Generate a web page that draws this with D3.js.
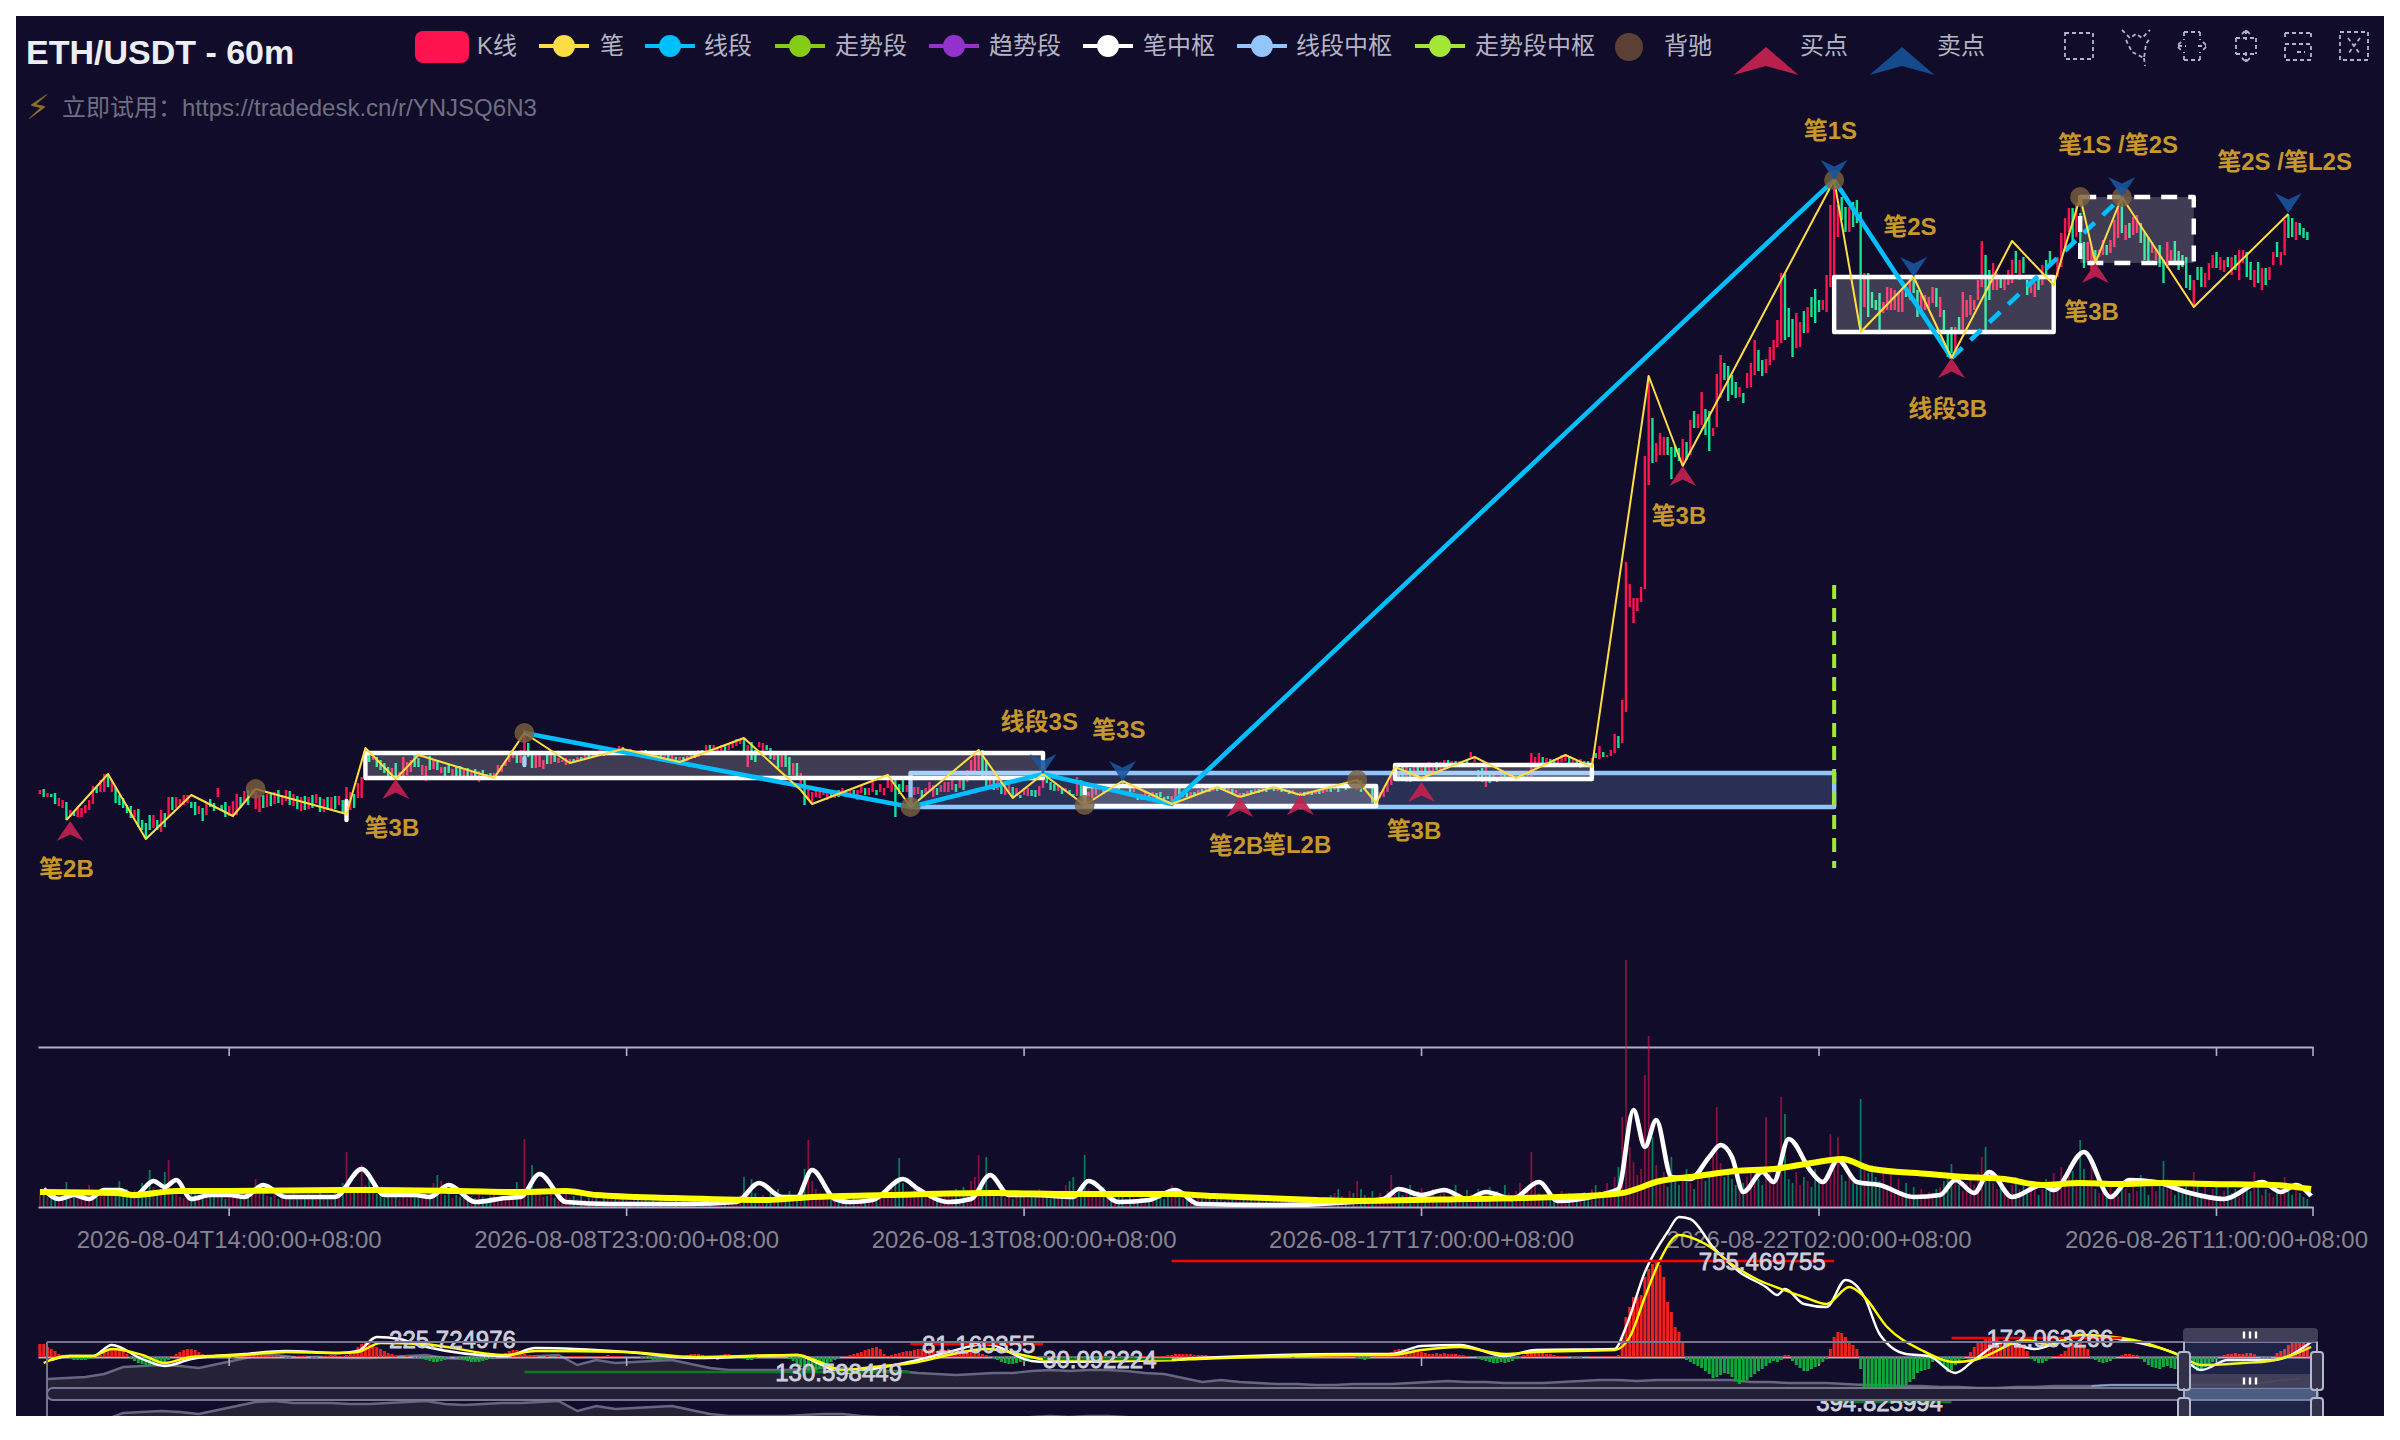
<!DOCTYPE html>
<html>
<head>
  <meta charset="utf-8">
  <title>ETH/USDT - 60m</title>
  <script src="https://d3js.org/d3.v7.min.js"></script>
  <style>
    body { margin: 0; background: #fff; }
    text { font-family: "Liberation Sans", "Noto Sans CJK SC", "DejaVu Sans", sans-serif; }
  </style>
</head>
<body>
  <svg id="chart" width="2400" height="1440"></svg>

  <script>
    // categories and tick labels
    const barCount = 601;
    const tickBars = [50, 155, 260, 365, 470, 575];
    const tickLabels = ["2026-08-04T14:00:00+08:00", "2026-08-08T23:00:00+08:00", "2026-08-13T08:00:00+08:00",
      "2026-08-17T17:00:00+08:00", "2026-08-22T02:00:00+08:00", "2026-08-26T11:00:00+08:00"];

    // candles, 20 bars per row
    const candleOpen = [
      106,111,103,106,107,94,92,98,83,88,83,83,87,90,96,113,108,108,125,108,
      113,105,102,95,94,83,91,80,77,85,72,80,68,87,83,103,92,93,95,97,
      98,98,86,92,85,101,97,103,95,98,84,85,85,103,97,110,105,91,88,105,
      93,106,96,110,95,99,109,94,104,89,104,91,105,97,103,88,103,91,104,95,
      100,88,90,106,102,102,120,148,140,143,140,137,133,125,137,122,122,125,128,145,
      142,125,119,144,131,140,127,133,135,123,133,134,120,132,120,131,118,130,126,127,
      122,127,128,134,138,142,145,137,137,157,148,132,133,131,145,136,146,137,138,135,
      137,141,139,143,141,145,143,147,145,147,148,146,150,150,153,146,151,146,149,147,
      150,146,147,143,146,141,145,140,143,140,143,139,142,146,143,150,147,155,150,148,
      148,155,150,152,154,156,162,133,158,150,153,147,155,152,140,147,133,147,143,125,
      137,115,120,100,98,103,102,105,100,108,102,110,105,108,103,110,100,107,112,105,
      108,110,108,105,112,108,122,116,120,108,97,105,106,110,107,110,103,112,108,108,
      108,110,116,112,120,118,125,127,130,150,140,115,122,110,118,105,106,113,104,105,
      105,104,110,110,104,112,124,118,116,109,112,108,110,106,104,120,115,95,102,105,
      110,112,108,114,110,113,119,112,114,108,105,100,102,105,103,107,108,103,104,96,
      96,112,103,107,104,108,106,111,108,112,109,113,110,113,109,111,107,103,107,104,
      110,107,111,108,112,110,113,109,112,108,110,107,105,104,108,105,109,106,110,107,
      108,113,110,113,112,115,113,117,110,120,114,112,115,97,102,103,108,115,122,128,
      133,118,132,119,133,125,135,127,129,138,127,130,140,135,139,135,137,140,143,138,
      130,132,113,125,120,123,120,125,121,125,124,120,124,122,123,130,135,143,135,141,
      141,137,138,139,143,137,139,132,139,139,132,147,141,148,143,144,147,164,157,188,
      293,277,289,298,311,415,482,438,445,445,463,453,454,452,434,458,445,489,472,475,
      491,489,464,473,502,537,534,525,518,503,507,512,513,525,550,540,527,535,540,553,
      557,626,592,581,552,553,589,567,603,611,600,590,588,613,623,663,703,693,668,698,
      700,688,593,627,608,600,607,587,590,590,590,588,588,613,600,620,610,590,590,592,
      597,612,583,590,570,573,550,583,570,583,585,590,600,613,645,630,610,610,625,610,
      615,617,649,620,643,620,607,603,625,615,640,649,613,623,633,652,668,692,663,687,
      658,640,630,650,643,645,655,647,653,662,700,660,677,665,667,677,668,663,647,640,
      655,640,632,635,659,649,645,643,625,593,633,633,613,620,632,648,630,628,643,625,
      645,620,637,648,638,613,638,610,632,620,635,658,635,645,685,682,660,677,672,668
    ];
    const candleClose = [
      110,103,107,103,96,102,100,80,90,84,92,92,95,100,114,107,120,126,113,120,
      97,95,92,87,82,90,73,70,61,70,85,70,90,73,103,90,103,101,105,105,
      92,85,94,79,98,93,89,112,90,83,94,99,106,92,109,95,111,108,105,92,
      106,94,108,97,105,110,95,106,91,103,90,103,92,106,88,101,90,103,91,104,
      88,113,108,92,117,123,152,138,148,133,130,127,122,132,121,128,143,138,140,133,
      133,135,134,130,140,130,133,124,127,131,124,124,130,122,129,121,129,120,120,120,
      127,135,135,140,145,149,137,150,170,143,132,146,145,140,136,146,138,142,140,142,
      141,138,143,140,146,142,147,144,150,144,150,151,146,154,147,151,146,150,146,150,
      146,149,143,147,141,146,140,145,138,143,138,144,147,142,150,147,155,148,155,153,
      155,148,156,158,161,160,146,155,140,138,158,157,150,141,148,132,148,133,125,137,
      120,127,95,110,108,110,108,110,107,103,108,103,112,103,110,103,110,115,105,112,
      118,105,116,112,126,124,83,106,108,115,115,113,113,103,112,118,115,105,115,118,
      118,120,108,122,110,130,140,147,148,120,112,125,110,120,106,118,118,104,112,102,
      112,112,104,103,114,125,117,110,109,114,106,112,106,103,123,95,106,108,112,115,
      115,106,115,108,116,108,113,116,108,112,100,106,108,100,108,100,103,98,101,104,
      116,104,108,103,108,105,110,107,112,108,113,109,114,109,112,106,110,107,104,109,
      106,111,107,112,108,113,109,112,108,111,106,110,107,108,104,109,105,110,106,111,
      113,108,113,108,116,110,117,112,120,108,110,115,97,104,108,110,118,127,133,120,
      123,137,118,135,124,135,126,138,135,130,138,140,132,139,134,139,134,136,148,143,
      122,118,133,117,125,118,125,119,126,120,128,126,122,128,147,143,147,136,142,137,
      137,142,145,145,137,142,133,141,135,135,142,142,154,143,145,150,166,152,200,338,
      316,302,302,313,444,524,437,457,467,463,445,421,443,439,461,440,480,472,486,508,
      465,449,472,526,545,520,499,505,502,513,497,527,537,560,529,524,541,553,560,580,
      627,560,563,543,587,578,567,593,583,577,588,600,625,695,717,695,680,668,693,673,
      677,568,627,583,592,590,570,598,613,612,610,607,612,603,623,607,583,607,605,603,
      613,593,603,568,543,547,573,570,608,600,605,600,620,659,570,600,637,627,612,625,
      630,640,627,640,627,605,620,617,610,635,625,633,625,643,667,682,692,657,697,653,
      632,658,653,640,650,660,645,660,680,697,667,675,662,683,685,657,640,638,658,650,
      633,617,658,650,637,630,633,612,610,620,620,613,627,637,645,632,643,640,633,643,
      630,650,650,623,620,630,617,632,615,633,648,643,648,680,662,663,678,665,662,660
    ];

    // volume and its two averages (bar index / value)
    const volume = [
      12,18,10,14,17,16,10,25,12,9,14,11,10,22,14,10,16,12,15,13,
      11,26,14,18,15,17,13,24,15,37,20,16,18,35,47,13,16,10,9,15,
      18,14,10,12,9,14,16,13,12,8,11,14,10,9,13,10,12,28,17,14,
      11,10,16,8,13,9,12,14,8,11,10,13,9,12,16,10,11,9,14,12,
      24,55,18,20,16,42,22,34,17,13,12,9,10,14,11,8,12,9,13,10,
      14,11,13,19,24,32,26,12,16,9,12,10,14,8,11,9,13,10,8,11,
      13,9,18,11,14,10,25,16,68,20,42,18,14,10,11,24,9,12,8,14,
      9,11,8,13,7,10,9,12,6,10,8,13,9,7,11,8,6,10,7,9,
      8,6,9,5,7,8,5,7,6,4,8,5,6,7,4,6,5,7,4,5,
      6,4,8,5,7,12,30,16,28,14,10,12,8,14,9,18,13,10,16,12,
      11,20,38,67,26,18,14,12,10,9,11,8,10,13,7,9,6,10,8,9,
      10,14,12,16,18,22,28,49,24,16,12,18,10,14,11,9,13,8,11,10,
      12,10,18,14,20,16,26,30,52,22,50,14,12,10,13,9,11,8,10,12,
      14,9,11,16,18,12,10,8,11,13,14,22,26,30,16,20,52,18,14,12,
      16,20,11,9,12,10,14,8,11,9,7,10,9,8,11,7,9,8,10,22,
      12,9,8,11,10,7,9,8,12,9,7,11,8,6,10,8,9,7,10,8,
      9,7,8,10,6,9,8,7,11,6,8,5,9,7,6,8,5,7,9,10,
      8,12,14,18,11,9,16,14,26,18,12,10,16,9,14,10,16,32,20,15,
      12,18,22,14,16,19,11,14,18,10,13,16,9,12,22,14,11,17,13,10,
      18,12,14,20,10,16,12,22,14,11,16,24,18,20,55,26,14,12,9,11,
      10,13,16,11,14,9,12,10,15,13,18,22,16,12,24,18,30,40,90,247,
      60,45,32,38,132,171,70,42,28,35,20,50,26,22,30,38,24,18,32,28,
      26,34,58,100,44,30,36,28,22,18,24,30,35,40,28,22,90,34,26,42,
      110,93,28,24,35,22,30,26,20,38,24,28,30,73,46,70,32,26,38,24,
      22,108,40,34,42,30,26,36,22,32,18,28,16,24,14,20,12,18,10,15,
      14,18,20,26,34,43,28,22,16,24,30,22,35,50,60,30,24,18,26,20,
      16,22,30,18,26,14,20,24,12,18,28,22,34,26,40,30,42,36,28,67,
      38,24,43,18,14,22,12,20,16,10,26,18,14,28,16,32,20,12,24,16,
      22,46,28,18,12,26,16,20,14,35,22,14,24,10,18,20,12,16,22,14,
      18,10,14,22,16,35,20,12,18,14,10,16,24,30,18,12,22,14,10,8
    ];
    const volFastBar = [1,5,9,13,17,21,25,30,33,36,40,45,50,54,59,65,70,78,85,91,99,103,108,115,123,127,132,139,151,171,184,190,196,200,204,210,214,220,228,232,240,246,251,256,262,273,277,285,293,300,306,327,347,355,359,365,371,377,382,389,396,401,412,417,421,424,427,431,436,441,444,447,450,455,458,462,468,471,475,480,486,495,502,506,511,515,521,529,532,540,547,552,559,567,577,587,592,596,600];
    const volFast = [18,8,12,8,17,17,11,26,20,27,8,12,12,10,22,10,10,10,38,12,12,10,22,5,9,10,33,5,3,3,5,24,10,10,37,8,5,7,28,18,5,8,32,12,12,10,26,5,7,17,3,2,5,8,18,12,17,8,15,8,25,6,12,18,97,60,87,30,28,50,62,50,15,35,25,68,35,25,47,25,22,10,12,27,14,35,10,22,17,55,10,27,25,15,8,25,15,22,11];
    const volSlowBar = [0,20,25,36,50,80,87,111,127,139,147,167,192,204,224,252,273,299,310,337,347,377,408,418,428,438,448,458,468,476,484,499,509,519,529,539,549,561,573,590,600];
    const volSlow = [15,14,12,16,16,17,17,16,15,16,12,9,7,10,12,14,13,13,11,7,6,8,11,14,26,31,36,38,44,48,38,33,30,28,22,24,23,24,23,22,18];

    // MACD
    const macdHist = [
      13,13,10,8,6,3,1,0,-1,-3,-3,-3,-3,-2,-1,0,2,4,6,8,
      9,8,6,3,-2,-4,-6,-7,-8,-8,-9,-8,-7,-6,-3,1,3,5,7,8,
      8,7,5,3,2,2,2,2,1,0,0,-1,0,1,2,3,3,3,2,2,
      1,1,2,1,0,-1,-1,0,1,1,1,0,-1,-1,0,1,1,2,2,1,
      1,2,3,6,10,13,15,14,12,10,8,6,4,3,1,0,0,1,0,-1,
      -1,-2,-3,-4,-5,-5,-4,-3,-1,0,-1,-2,-3,-4,-5,-5,-5,-4,-3,-2,
      -1,1,2,4,6,7,7,5,3,2,1,1,0,0,1,0,0,1,0,0,
      1,1,1,1,1,0,0,1,1,1,2,1,1,1,1,0,0,0,0,-1,
      -1,-2,-3,-3,-3,-2,-1,0,0,1,1,2,3,3,3,2,1,0,-1,-3,
      2,3,3,2,1,0,-2,-3,-3,-1,0,1,1,0,1,1,0,0,-2,-4,
      -7,-10,-13,-15,-15,-14,-12,-10,-8,-5,-3,-1,0,1,2,3,4,5,7,8,
      9,10,8,3,1,2,3,4,5,6,6,7,8,8,7,8,7,6,8,7,
      8,6,8,5,7,6,5,6,4,3,2,0,-1,-3,-5,-6,-7,-7,-6,-5,
      -5,-4,-2,0,-1,-2,-2,-2,-1,-1,-2,-2,-1,-1,-2,-1,-1,-2,-2,-2,
      -1,-1,-2,-1,0,-1,-1,0,-1,-1,0,1,1,-1,-1,1,1,1,2,2,
      3,3,3,3,3,2,2,2,2,1,1,1,1,1,1,0,1,1,1,0,
      0,0,1,0,1,1,0,0,1,0,0,-1,0,0,0,0,0,1,1,1,
      1,1,2,1,1,2,2,1,-1,-2,-3,-2,0,1,2,1,3,5,7,8,
      8,7,6,8,7,5,4,3,3,4,3,4,3,3,3,2,2,1,0,0,
      -2,-3,-4,-5,-6,-6,-5,-6,-5,-4,-2,-1,2,4,5,5,5,4,3,3,
      2,1,1,1,0,-1,-1,-1,0,0,1,1,0,1,1,1,1,2,20,40,
      50,60,60,62,80,88,93,96,92,80,55,45,30,25,15,-3,-5,-7,-9,-11,
      -14,-17,-21,-20,-18,-16,-17,-20,-24,-27,-25,-23,-20,-17,-14,-12,-9,-6,-4,-5,
      -3,2,2,-4,-8,-11,-14,-14,-12,-10,-7,-5,-2,8,20,25,24,20,16,12,
      8,-12,-30,-37,-42,-45,-45,-45,-43,-43,-38,-33,-30,-28,-25,-22,-16,-14,-13,-12,
      -5,-4,-6,-10,-15,-13,-8,-4,-2,1,5,10,14,16,18,18,17,18,16,17,
      17,16,15,14,12,6,-2,-4,-6,-6,-4,-2,1,1,3,6,10,13,15,14,
      12,8,-1,-3,-5,-6,-5,-4,-2,0,2,3,3,2,2,-2,-5,-8,-10,-11,
      -12,-10,-9,-11,-12,-13,-10,-7,-5,-9,-14,-12,-10,-7,-5,-2,0,2,3,3,
      4,3,3,4,4,3,0,-1,-1,-1,0,4,6,8,12,18,17,16,15,12
    ];
    const difBar = [3,8,14,19,27,33,40,54,65,79,84,89,95,101,123,131,155,173,200,206,212,220,232,240,250,262,266,299,306,347,357,365,375,387,395,416,419,424,430,433,436,442,449,456,459,461,466,472,477,482,486,493,499,506,511,519,527,539,549,557,565,571,578,590,600];
    const dif = [-3,1,1,12,-2,-9,-2,3,6,4,6,20,18,11,1,9,5,-1,2,-7,-16,-12,-3,5,13,-4,-5,-3,-1,3,3,11,12,1,7,8,30,85,125,140,138,110,85,70,62,68,53,50,77,60,23,3,1,-16,-3,15,8,22,18,12,2,-13,-3,-3,15];
    const deaBar = [1,7,14,19,27,33,40,54,65,79,84,90,101,123,131,155,173,200,206,212,220,232,240,250,262,266,299,306,347,357,365,375,387,395,416,420,424,428,433,440,448,454,460,466,472,478,482,488,497,506,511,525,531,539,553,565,571,582,589,595,600];
    const dea = [-6,1,1,8,2,-6,0,2,5,4,5,14,13,2,6,5,0,2,-5,-13,-10,-5,2,8,0,-3,-3,-2,2,2,7,10,3,5,7,20,60,97,122,113,90,77,68,60,53,70,60,30,7,-5,-3,17,12,22,17,2,-8,-6,-4,2,10];

    // labelled extremes of the MACD histogram
    const markText = ["225.724976", "130.598449", "81.160355", "30.092224", "755.469755", "394.825994", "172.063266"];
    const markLevel = [18, -15, 13, -2, 96, -45, 19];
    const markFrom = [88, 128, 230, 265, 299, 474, 505];
    const markTo = [88, 230, 265, 299, 474, 505, 550];
    const markLabelBar = [109, 211, 248, 280, 455, 486, 531];
    const markColor = ["#ff0000", "#0c7a1e", "#ff0000", "#0c7a1e", "#ff0000", "#0c7a1e", "#ff0000"];

    // slider preview line, one value every 5 bars
    const sliderLine = [9,10,11,14,21,22,23,22,20,24,28,32,33,31,31,31,30,30,31,32,33,30,29,30,31,31,32,33,23,28,25,26,27,28,24,20,18,18,18,18,19,20,20,18,17,17,15,14,13,14,15,15,17,18,17,18,18,17,15,14,10,6,8,6,5,4,4,3,3,4,4,4,5,6,7,6,6,5,5,5,6,7,8,8,7,8,8,8,8,8,6,6,5,5,5,4,3,3,2,2,1,1,0,0,1,1,2,2,2,3,3,3,3,3,3,3,3,5,8,9];

    // chan structures, all from bar index / price
    const penBar = [7,18,28,40,51,57,81,86,94,100,120,128,140,154,169,186,201,204,224,230,248,257,265,276,286,299,311,317,326,333,348,353,358,365,379,390,403,410,425,434,474,481,495,505,521,532,539,543,550,569,594];
    const penPrice = [80,126,61,105,84,111,86,152,121,145,122,167,137,151,138,162,110,96,125,93,150,102,126,95,119,96,113,103,113,105,120,97,133,122,143,122,145,133,524,434,720,568,623,542,659,615,703,637,703,593,686];
    const segmentBar = [128,230,265,299,474,505];
    const segmentPrice = [167,93,126,96,720,542];
    const segmentDashBar = [505,550];
    const segmentDashPrice = [542,703];
    const penCenterFrom = [86,276,358,474,81];
    const penCenterTo = [265,353,410,532,81];
    const penCenterHigh = [147,114,135,623,99];
    const penCenterLow = [122,94,121,568,80];
    const penCenterDashFrom = 539, penCenterDashTo = 569, penCenterDashHigh = 703, penCenterDashLow = 637;
    const segCenterFrom = [230,128];
    const segCenterTo = [474,128];
    const segCenterHigh = [127,142];
    const segCenterLow = [93,135];
    const trendCenterBar = 474, trendCenterHigh = 315, trendCenterLow = 32;
    const divergeBar = [57,128,230,276,348,474,539,550];
    const divergePrice = [111,167,93,95,120,720,703,703];
    const buyBar = [8,94,317,333,365,434,505,543];
    const buyPrice = [79,121,103,105,118,434,542,637];
    const sellBar = [265,286,474,495,550,594];
    const sellPrice = [126,119,720,623,703,687];
    const signalText = ["笔2B","笔3B","线段3S","笔3S","笔2B","笔L2B","笔3B","笔3B","笔1S","笔2S","线段3B","笔3B","笔1S /笔2S","笔2S /笔L2S"];
    const signalBar = [7,93,264,285,316,332,363,433,473,494,504,542,549,593];
    const signalPrice = [32,73,179,171,55,56,70,385,770,674,492,589,756,739];

    // legend
    const legendNames = ["K线","笔","线段","走势段","趋势段","笔中枢","线段中枢","走势段中枢","背驰","买点","卖点"];
    const legendColors = ["#ff1450","#ffdd44","#00bfff","#84cc16","#9333cc","#ffffff","#93c5fd","#a3e635","#5c4033","#b8214e","#154a8c"];
    const legendCenter = [442,564,670,800,954,1108,1262,1440,1629,1766,1902];
    const legendTextX = [477,600,704,835,989,1143,1296,1475,1664,1800,1937];

    const svg = d3.select("#chart");
    const root = svg.append("g").attr("clip-path", "url(#panel)");
    svg.append("clipPath").attr("id", "panel").append("rect")
      .attr("x", 16).attr("y", 16).attr("width", 2368).attr("height", 1400);
    root.append("rect").attr("x", 16).attr("y", 16).attr("width", 2368).attr("height", 1400).attr("fill", "#100c2a");

    // scales
    const xBand = d3.scaleBand().domain(d3.range(barCount)).range([38, 2313]);
    const x = i => xBand(i) + xBand.bandwidth() / 2;
    const y = d3.scaleLinear().domain([0, 800]).range([900, 100]);
    const yVol = d3.scaleLinear().domain([0, 250]).range([1207, 957]);
    const yMacd = d3.scaleLinear().domain([0, 100]).range([1357, 1257]);
    const ySlider = d3.scaleLinear().domain([0, 40]).range([1388, 1348]);

    // slider preview areas go under everything in the lower panel
    function sliderLayer(offset) {
      const g = root.append("g").attr("transform", `translate(0, ${offset})`);
      const sx = (d, k) => x(k * 5 + 2);
      const pts = sliderLine.slice(0, 117);
      g.append("path").datum(pts)
        .attr("fill", "#252238")
        .attr("d", d3.area().x(sx).y0(1388).y1(d => ySlider(d)));
      g.append("path").datum(pts)
        .attr("fill", "none").attr("stroke", "#666680").attr("stroke-width", 2.4)
        .attr("d", d3.line().x(sx).y(d => ySlider(d)));
    }
    sliderLayer(0);
    sliderLayer(46);

    // axes
    function xAxis(yPos, withLabels) {
      const axis = d3.axisBottom(xBand).tickValues(tickBars).tickSize(9).tickSizeOuter(0).tickPadding(15)
        .tickFormat(withLabels ? (d, i) => tickLabels[i] : "");
      const g = root.append("g").attr("transform", `translate(0, ${yPos})`).call(axis);
      g.select(".domain").attr("stroke", "#b3afc8").attr("stroke-width", 2);
      g.selectAll(".tick line").attr("stroke", "#b3afc8").attr("stroke-width", 1.6);
      g.selectAll(".tick text").attr("fill", "#85848f").style("font-size", "24px")
        .style("font-family", '"Liberation Sans", sans-serif');
      g.append("line").attr("x1", 2313).attr("x2", 2313).attr("y2", 9).attr("stroke", "#b3afc8").attr("stroke-width", 1.6);
    }
    xAxis(1047, false);
    xAxis(1207, true);
    xAxis(1357, false);

    // volume
    const upBar = i => candleClose[i] >= candleOpen[i];
    root.append("g").selectAll("line").data(volume).join("line")
      .attr("x1", (d, i) => x(i)).attr("x2", (d, i) => x(i))
      .attr("y1", yVol(0)).attr("y2", d => yVol(d))
      .attr("stroke", (d, i) => upBar(i) ? "#ff1450" : "#00e68c")
      .attr("stroke-opacity", 0.5).attr("stroke-width", 1.8);

    const volLine = (bars, vals, color, w) => root.append("path")
      .datum(bars.map((b, i) => [b, vals[i]]))
      .attr("fill", "none").attr("stroke", color).attr("stroke-width", w)
      .attr("d", d3.line().x(d => x(d[0])).y(d => yVol(d[1])).curve(d3.curveMonotoneX));
    volLine(volFastBar, volFast, "#ffffff", 4.6);
    volLine(volSlowBar, volSlow, "#ffff00", 6);

    // MACD
    root.append("g").selectAll("rect").data(macdHist).join("rect")
      .attr("x", (d, i) => x(i) - 1.5).attr("width", 3)
      .attr("y", d => d >= 0 ? yMacd(d) : yMacd(0))
      .attr("height", d => Math.abs(yMacd(d) - yMacd(0)))
      .attr("fill", d => d >= 0 ? "#f0201e" : "#0fa83a");

    const macdLine = (bars, vals, color) => root.append("path")
      .datum(bars.map((b, i) => [b, vals[i]]))
      .attr("fill", "none").attr("stroke", color).attr("stroke-width", 2.4)
      .attr("d", d3.line().x(d => x(d[0])).y(d => yMacd(d[1])).curve(d3.curveMonotoneX));
    macdLine(difBar, dif, "#ffffff");
    macdLine(deaBar, dea, "#ffff00");

    markText.forEach((t, i) => {
      root.append("line")
        .attr("x1", x(markFrom[i])).attr("x2", x(markTo[i]))
        .attr("y1", yMacd(markLevel[i])).attr("y2", yMacd(markLevel[i]))
        .attr("stroke", markColor[i]).attr("stroke-width", 2.4);
      root.append("text")
        .attr("x", x(markLabelBar[i]))
        .attr("y", yMacd(markLevel[i]))
        .attr("dy", "0.36em").attr("text-anchor", "middle")
        .attr("fill", "#cfcfdc").attr("font-size", 24).attr("stroke", "#cfcfdc").attr("stroke-width", 0.8)
        .text(t);
    });

    // slider frame and selected window
    const frame = root.append("g").attr("fill", "none").attr("stroke", "#75758c").attr("stroke-width", 2);
    frame.append("line").attr("x1", 47).attr("x2", 2318).attr("y1", 1342).attr("y2", 1342);
    frame.append("line").attr("x1", 47).attr("x2", 47).attr("y1", 1342).attr("y2", 1416);
    frame.append("rect").attr("x", 47).attr("y", 1388).attr("width", 2271).attr("height", 12).attr("rx", 6)
      .attr("fill", "#231f38");

    const win = root.append("g");
    win.append("rect").attr("x", 2184).attr("width", 133).attr("y", 1342).attr("height", 46).attr("fill", "#87afff").attr("fill-opacity", 0.14);
    win.append("rect").attr("x", 2184).attr("width", 133).attr("y", 1388).attr("height", 12).attr("fill", "#6f8fc0").attr("fill-opacity", 0.55);
    win.append("rect").attr("x", 2184).attr("width", 133).attr("y", 1400).attr("height", 20).attr("fill", "#87afff").attr("fill-opacity", 0.14);
    win.append("path").datum(sliderLine.slice(117 - 9))
      .attr("fill", "none").attr("stroke", "#8fa8d8").attr("stroke-width", 1.6)
      .attr("d", d3.line().x((d, k) => x((k + 108) * 5 + 2)).y(d => ySlider(d)));
    [1328, 1374].forEach(top => {
      win.append("rect").attr("x", 2183).attr("width", 135).attr("y", top).attr("height", 14).attr("rx", 4)
        .attr("fill", "#45435c").attr("fill-opacity", 0.92);
      [-6, 0, 6].forEach(dx => win.append("rect").attr("x", 2250 + dx - 1.2).attr("width", 2.4)
        .attr("y", top + 3.5).attr("height", 7).attr("fill", "#ffffff"));
    });
    [[1352, 38], [1398, 38]].forEach(h => [2184, 2317].forEach(hx => {
      win.append("line").attr("x1", hx).attr("x2", hx).attr("y1", h[0] - 10).attr("y2", h[0]).attr("stroke", "#a8acc0").attr("stroke-width", 2);
      win.append("rect").attr("x", hx - 6).attr("width", 12).attr("y", h[0]).attr("height", h[1]).attr("rx", 3)
        .attr("fill", "#33304a").attr("stroke", "#b4b8cc").attr("stroke-width", 2);
    }));

    // candles
    root.append("g").selectAll("line").data(candleOpen).join("line")
      .attr("x1", (d, i) => x(i)).attr("x2", (d, i) => x(i))
      .attr("y1", d => y(d)).attr("y2", (d, i) => y(candleClose[i]))
      .attr("stroke", (d, i) => upBar(i) ? "#ff1450" : "#12e391")
      .attr("stroke-width", 2.4);

    // centers, paths so that a zero width center still shows as a line
    function centerBox(from, to, high, low, stroke, fill, w, dash) {
      root.append("path")
        .attr("d", `M${x(from)},${y(high)} H${x(to)} V${y(low)} H${x(from)} Z`)
        .attr("fill", fill).attr("stroke", stroke).attr("stroke-width", w)
        .attr("stroke-dasharray", dash || null).attr("stroke-linejoin", "round");
    }
    segCenterFrom.forEach((f, i) => centerBox(f, segCenterTo[i], segCenterHigh[i], segCenterLow[i], "#93c5fd", "rgba(147,197,253,0.2)", 4.4));
    penCenterFrom.forEach((f, i) => centerBox(f, penCenterTo[i], penCenterHigh[i], penCenterLow[i], "#ffffff", "rgba(255,255,255,0.2)", 4.4));
    centerBox(penCenterDashFrom, penCenterDashTo, penCenterDashHigh, penCenterDashLow, "#ffffff", "rgba(255,255,255,0.2)", 4.4, "16 11");
    root.append("line")
      .attr("x1", x(trendCenterBar)).attr("x2", x(trendCenterBar))
      .attr("y1", y(trendCenterHigh)).attr("y2", y(trendCenterLow))
      .attr("stroke", "#a3e635").attr("stroke-width", 4).attr("stroke-dasharray", "14 9");

    // pen and segments
    const pathOf = (bars, vals) => d3.line().x(d => x(d[0])).y(d => y(d[1]))(bars.map((b, i) => [b, vals[i]]));
    root.append("path").attr("d", pathOf(segmentBar, segmentPrice)).attr("fill", "none").attr("stroke", "#00bfff").attr("stroke-width", 4.6);
    root.append("path").attr("d", pathOf(segmentDashBar, segmentDashPrice)).attr("fill", "none").attr("stroke", "#00bfff").attr("stroke-width", 4.6).attr("stroke-dasharray", "15 11");
    root.append("path").attr("d", pathOf(penBar, penPrice)).attr("fill", "none").attr("stroke", "#ffdd44").attr("stroke-width", 2).attr("stroke-linejoin", "round");

    // divergence and trade points
    root.append("g").selectAll("circle").data(divergeBar).join("circle")
      .attr("cx", d => x(d)).attr("cy", (d, i) => y(divergePrice[i])).attr("r", 10)
      .attr("fill", "#7a5f3e").attr("fill-opacity", 0.82);

    const arrowPath = (w, h) => `M0,0 L${w / 2},${h} L0,${h * 0.68} L${-w / 2},${h} Z`;
    root.append("g").selectAll("path").data(buyBar).join("path")
      .attr("d", arrowPath(27, 20))
      .attr("transform", (d, i) => `translate(${x(d)}, ${y(buyPrice[i])})`)
      .attr("fill", "#c2214f").attr("fill-opacity", 0.92);
    root.append("g").selectAll("path").data(sellBar).join("path")
      .attr("d", arrowPath(27, 20))
      .attr("transform", (d, i) => `translate(${x(d)}, ${y(sellPrice[i])}) scale(1,-1)`)
      .attr("fill", "#1a559c").attr("fill-opacity", 0.9);

    root.append("g").selectAll("text").data(signalText).join("text")
      .attr("x", (d, i) => x(signalBar[i])).attr("y", (d, i) => y(signalPrice[i]))
      .attr("dy", "0.36em").attr("text-anchor", "middle")
      .attr("fill", "#c8972a").attr("font-size", 24).attr("font-weight", "bold")
      .text(d => d);

    // title
    root.append("text").attr("x", 26).attr("y", 64).attr("fill", "#eceef4")
      .attr("font-size", 34).attr("font-weight", "bold").text("ETH/USDT - 60m");
    root.append("text").attr("x", 26).attr("y", 119).attr("font-size", 34).attr("fill", "#8a6c26").text("⚡");
    root.append("text").attr("x", 62).attr("y", 116).attr("font-size", 24).attr("fill", "#6f6f80")
      .text("立即试用：https://tradedesk.cn/r/YNJSQ6N3");

    // legend
    legendNames.forEach((name, i) => {
      const c = legendColors[i], cx = legendCenter[i], g = root.append("g");
      if (i === 0) {
        g.append("rect").attr("x", cx - 27).attr("y", 31).attr("width", 54).attr("height", 32).attr("rx", 8).attr("fill", c);
      } else if (i === 8) {
        g.append("circle").attr("cx", cx).attr("cy", 47).attr("r", 14).attr("fill", c);
      } else if (i >= 9) {
        g.append("path").attr("d", arrowPath(65, 28)).attr("transform", `translate(${cx}, 47)`).attr("fill", c);
      } else {
        g.append("line").attr("x1", cx - 25).attr("x2", cx + 25).attr("y1", 46).attr("y2", 46).attr("stroke", c).attr("stroke-width", 4);
        g.append("circle").attr("cx", cx).attr("cy", 46).attr("r", 11).attr("fill", c);
      }
      g.append("text").attr("x", legendTextX[i]).attr("y", 45).attr("dy", "0.36em")
        .attr("fill", "#b4b4c4").attr("font-size", 24).text(name);
    });

    // toolbox icons, 32 unit box
    const toolIcons = [
      "M2,3H30V29H2Z",
      "M2,0L10,8L16,4L22,8L30,0 M6,10L12,22L24,28L26,14L30,8 M24,28L25,36",
      "M8,2H24 M8,2V10 M24,2V10 M8,30H24 M8,30V22 M24,30V22 M2,16H10 M22,16H30 M5,12L1,16L5,20 M27,12L31,16L27,20",
      "M6,8H26 M6,8V24 M26,8V24 M6,24H26 M16,0V10 M16,22V32 M12,4L16,0L20,4 M12,28L16,32L20,28",
      "M2,3H28 M2,3V10 M28,3V10 M2,14H28V30H2Z M14,22H22",
      "M2,2H30V30H2Z M10,8L22,24 M22,8L10,24"
    ];
    const toolX = [2063, 2120, 2176, 2230, 2283, 2338];
    toolIcons.forEach((d, i) => root.append("path").attr("d", d)
      .attr("transform", `translate(${toolX[i]}, 30)`)
      .attr("fill", "none").attr("stroke", "#b4b4c8").attr("stroke-width", 1.8).attr("stroke-dasharray", "4 3"));
  </script>
</body>
</html>
